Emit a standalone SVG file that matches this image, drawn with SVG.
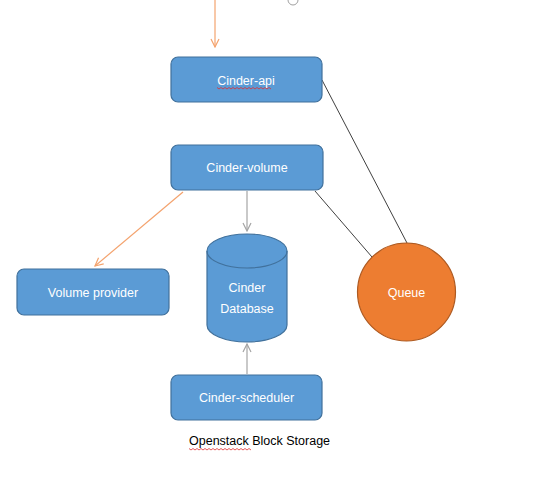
<svg xmlns="http://www.w3.org/2000/svg" width="557" height="480" viewBox="0 0 557 480">
<style>
.box{fill:#5B9BD5;stroke:#41719C;stroke-width:1.2}
.lbl{font-family:"Liberation Sans","Open Sans",sans-serif;font-size:12.5px;fill:#FFFFFF;text-anchor:middle}
.cap{font-family:"Liberation Sans","Open Sans",sans-serif;font-size:12.5px;fill:#000000}
.squig{fill:none;stroke:#E03030;stroke-width:0.8}
</style>
<defs>
<marker id="ao" viewBox="0 0 10 10" refX="9" refY="5" markerWidth="10" markerHeight="10" markerUnits="userSpaceOnUse" orient="auto"><path d="M1,1 L9,5 L1,9" fill="none" stroke="#F4A36E" stroke-width="1.2"/></marker>
<marker id="ag" viewBox="0 0 10 10" refX="9" refY="5" markerWidth="10" markerHeight="10" markerUnits="userSpaceOnUse" orient="auto"><path d="M1,1 L9,5 L1,9" fill="none" stroke="#A5A5A5" stroke-width="1.2"/></marker>
</defs>
<rect width="557" height="480" fill="#FFFFFF"/>
<path d="M288,0 A5,5 0 0 0 298,0" fill="none" stroke="#A0A0A0" stroke-width="1"/>
<g id="connectors">
<line x1="215" y1="0" x2="215" y2="47" stroke="#F4A36E" stroke-width="1.2" marker-end="url(#ao)"/>
<line x1="183" y1="192" x2="95" y2="266" stroke="#F4A36E" stroke-width="1.2" marker-end="url(#ao)"/>
<line x1="247" y1="191" x2="247" y2="231" stroke="#A5A5A5" stroke-width="1.2" marker-end="url(#ag)"/>
<line x1="247" y1="374" x2="247" y2="344" stroke="#A5A5A5" stroke-width="1.2" marker-end="url(#ag)"/>
<line x1="322" y1="80" x2="407" y2="243" stroke="#404040" stroke-width="1"/>
<line x1="315" y1="191" x2="372" y2="257" stroke="#404040" stroke-width="1"/>
</g>
<g id="cinder-api">
<rect class="box" x="171" y="57" width="151" height="45" rx="7"/>
<text class="lbl" x="246" y="84.5">Cinder-api</text>
<path class="squig" d="M217,87.5 l2,1.5 l2,-1.5 l2,1.5 l2,-1.5 l2,1.5 l2,-1.5 l2,1.5 l2,-1.5 l2,1.5 l2,-1.5 l2,1.5 l2,-1.5 l2,1.5 l2,-1.5 l2,1.5 l2,-1.5 l2,1.5 l2,-1.5 l2,1.5 l2,-1.5 l2,1.5 l2,-1.5 l2,1.5 l2,-1.5 l2,1.5 l2,-1.5 l2,1.5"/>
</g>
<g id="cinder-volume">
<rect class="box" x="171" y="145" width="152" height="45" rx="7"/>
<text class="lbl" x="247" y="172">Cinder-volume</text>
</g>
<g id="volume-provider">
<rect class="box" x="17" y="269" width="152" height="46" rx="7"/>
<text class="lbl" x="93" y="297">Volume provider</text>
</g>
<g id="cinder-database">
<path class="box" d="M207,251 L207,325 A40,17 0 0 0 287,325 L287,251 A40,17 0 0 0 207,251 Z"/>
<path d="M207,251 A40,17 0 0 0 287,251" fill="none" stroke="#41719C" stroke-width="1.2"/>
<text class="lbl" x="247" y="292">Cinder</text>
<text class="lbl" x="247" y="313">Database</text>
</g>
<g id="queue">
<circle cx="406.5" cy="292" r="49" fill="#ED7D31" stroke="#AE5A21" stroke-width="1.2"/>
<text class="lbl" x="406.5" y="296.5">Queue</text>
</g>
<g id="cinder-scheduler">
<rect class="box" x="171" y="375" width="151" height="45" rx="7"/>
<text class="lbl" x="246.5" y="402">Cinder-scheduler</text>
</g>
<g id="caption">
<text class="cap" x="189" y="445">Openstack Block Storage</text>
<path class="squig" d="M189,448.5 l2,1.5 l2,-1.5 l2,1.5 l2,-1.5 l2,1.5 l2,-1.5 l2,1.5 l2,-1.5 l2,1.5 l2,-1.5 l2,1.5 l2,-1.5 l2,1.5 l2,-1.5 l2,1.5 l2,-1.5 l2,1.5 l2,-1.5 l2,1.5 l2,-1.5 l2,1.5 l2,-1.5 l2,1.5 l2,-1.5 l2,1.5 l2,-1.5 l2,1.5 l2,-1.5 l2,1.5 l2,-1.5 l2,1.5"/>
</g>
</svg>
